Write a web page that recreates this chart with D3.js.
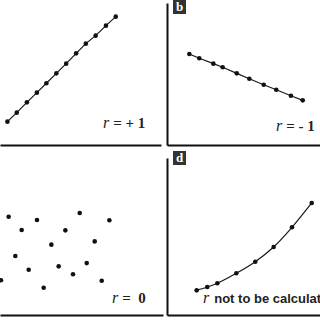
<!DOCTYPE html>
<html>
<head>
<meta charset="utf-8">
<script src="https://cdn.jsdelivr.net/npm/d3@7"></script>
<style>
	html, body { margin: 0; padding: 0; background: #fff; }
	svg { display: block; }
</style>
</head>
<body>
<svg id="chart" width="320" height="320"></svg>
<script>
'use strict';

// panel a: positive linear (x, y in 0-100 units)
let posX = [4.6, 10.4, 16.7, 22.9, 28.8, 35, 41.1, 47.3, 53.3, 59.4, 65.8, 71.9];
let posY = [16.1, 22.3, 29.4, 36.1, 42.6, 49.4, 56.1, 63.2, 69.9, 75.4, 82.3, 88.5];

// panel b: negative linear
let negX = [14.6, 21.1, 30.3, 36.4, 45.6, 53.8, 63.2, 71.4, 81, 88.7];
let negY = [62.8, 59.8, 56.1, 53.6, 49.4, 45.7, 41.6, 38.1, 34, 30.8];

// panel c: no correlation
let noneX = [5.3, 22.7, 48.9, 67.1, 13.3, 40.1, 31.5, 58.1, 9.4, 17.6, 36, 53.2, 44.8, 0.6, 26.8, 62.4];
let noneY = [63.4, 61.3, 65.8, 61.1, 54.8, 54.6, 45.4, 47.5, 38.1, 29.2, 31.4, 33.5, 26.3, 22.4, 17.6, 22.1];

// panel d: curved relation
let curveX = [19.4, 26.3, 32.9, 45.3, 57.7, 69.7, 81.7, 94.6];
let curveY = [15.9, 18.1, 20.5, 26.9, 34.4, 43.9, 56.6, 72.3];

let panelLetters = ['', 'b', '', 'd'];
let rLabels = ['= + 1', '= - 1', '=  0', 'not to be calculated'];

let svg = d3.select('#chart');

let panels = [
	{ xs: posX, ys: posY, frame: [0, 0, 161, 145], top: 0, line: d3.curveLinear, left: false, labelPos: [103, 128], serif: true },
	{ xs: negX, ys: negY, frame: [167, 3, 320, 145], top: 0, line: d3.curveLinear, left: true, labelPos: [276, 131], serif: true },
	{ xs: noneX, ys: noneY, frame: [0, 160, 163, 315], top: 160, line: null, left: false, labelPos: [112, 303], serif: true },
	{ xs: curveX, ys: curveY, frame: [167, 158, 320, 315], top: 160, line: d3.curveCatmullRom, left: true, labelPos: [203, 303], serif: false }
];

panels.forEach((p, i) => {
	let [x0, y0, x1, y1] = p.frame;
	let x = d3.scaleLinear().domain([0, 100]).range([x0, x1]);
	let y = d3.scaleLinear().domain([0, 100]).range([y1, p.top]);

	let pts = p.xs.map((v, k) => ({ x: v, y: p.ys[k] }));

	let g = svg.append('g');

	if (p.line) {
		let lineGen = d3.line()
			.x(d => x(d.x))
			.y(d => y(d.y))
			.curve(p.line);
		g.append('path')
			.attr('d', lineGen(pts))
			.attr('fill', 'none')
			.attr('stroke', '#1a1a1a')
			.attr('stroke-width', 1.2);
	}

	g.selectAll('circle')
		.data(pts)
		.enter().append('circle')
		.attr('cx', d => x(d.x))
		.attr('cy', d => y(d.y))
		.attr('r', 2.3)
		.attr('fill', '#111');

	// axes without ticks
	let xAxis = d3.scaleLinear().domain([0, 1]).range([x0, x1]);
	let axB = g.append('g')
		.attr('transform', `translate(0,${y1})`)
		.call(d3.axisBottom(xAxis).tickValues([]).tickSizeOuter(0));
	axB.select('.domain').attr('stroke', '#111').attr('stroke-width', 2);

	if (p.left) {
		let yAxis = d3.scaleLinear().domain([0, 1]).range([y1, y0]);
		let axL = g.append('g')
			.attr('transform', `translate(${x0},0)`)
			.call(d3.axisLeft(yAxis).tickValues([]).tickSizeOuter(0));
		axL.select('.domain').attr('stroke', '#111').attr('stroke-width', 2);
	}

	// panel letter box
	if (panelLetters[i]) {
		let by = i < 2 ? 0 : 151;
		g.append('rect')
			.attr('x', 173)
			.attr('y', by)
			.attr('width', 13)
			.attr('height', 14)
			.attr('fill', '#333');
		g.append('text')
			.attr('x', 179.5)
			.attr('y', by + 11)
			.attr('text-anchor', 'middle')
			.attr('font-family', 'Liberation Serif, DejaVu Serif, serif')
			.attr('font-weight', 'bold')
			.attr('font-size', 13)
			.attr('fill', '#fff')
			.text(panelLetters[i]);
	}

	// r label
	let t = g.append('text')
		.attr('x', p.labelPos[0])
		.attr('y', p.labelPos[1])
		.attr('fill', '#222')
		.style('white-space', 'pre');
	t.append('tspan')
		.attr('font-family', 'Liberation Serif, serif')
		.attr('font-style', 'italic')
		.attr('font-size', 16)
		.text('r');
	t.append('tspan')
		.attr('dx', p.serif ? 4 : 5)
		.attr('font-family', p.serif ? 'Liberation Serif, serif' : 'Liberation Sans, Arial, sans-serif')
		.attr('font-weight', 'bold')
		.attr('font-size', p.serif ? 15 : 13)
		.text(rLabels[i]);
});
</script>
</body>
</html>
